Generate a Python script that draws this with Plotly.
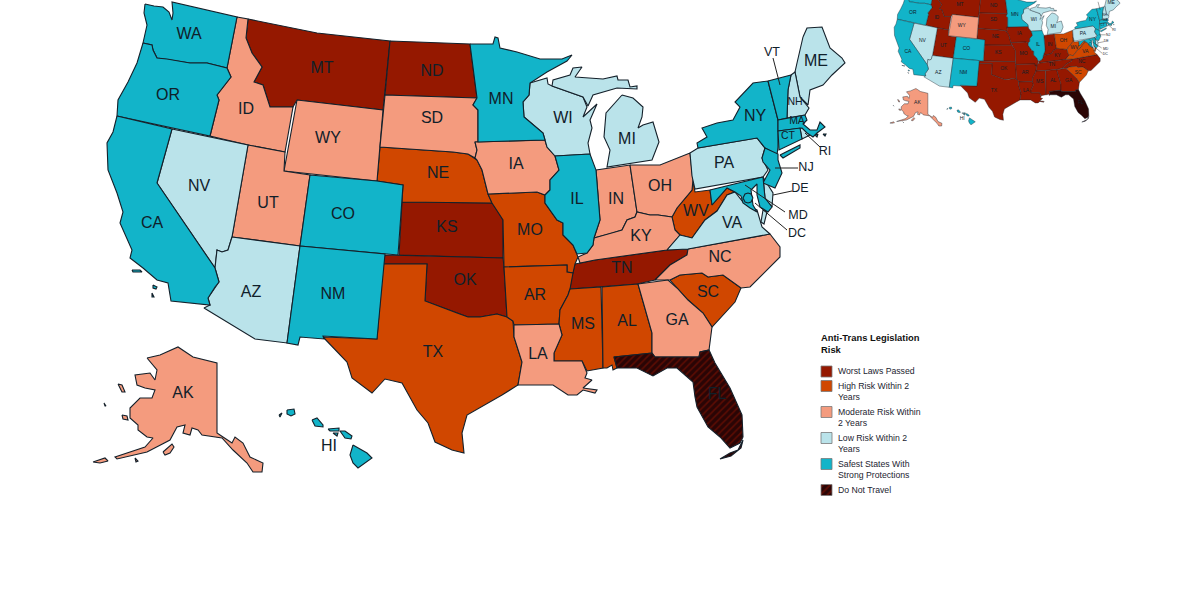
import plotly.graph_objects as go

# Plotly's geo basemap has to be fetched from a CDN and cannot load here, so the
# state outlines are hand-read from the picture and drawn on ordinary axes.
WA = [[(145,4),(154,6),(163,7),(169,12),(172,20),(173,13),(172,2),(237,17),(227,68),(207,63),(190,63),(167,59),(157,58),(153,50),(152,45),(143,43),(145,33),(147,25),(144,13)]]
OR = [[(143,43),(152,45),(153,50),(157,58),(167,59),(190,63),(207,63),(227,68),(231,77),(217,95),(219,100),(210,136),(117,116),(118,100),(128,82),(137,63)]]
CA = [[(117,116),(172,129),(157,183),(215,268),(219,282),(215,287),(208,298),(210,305),(171,301),(168,283),(157,280),(143,268),(130,258),(132,250),(120,223),(123,212),(117,193),(108,170),(107,143),(113,132)],
      [(132,270),(140,270),(142,272),(133,272)],[(153,285),(157,287),(156,289),(153,288)],[(152,293),(154,297),(152,297)]]
NV = [[(172,129),(248,145),(232,237),(228,250),(222,252),(217,250),(215,268),(157,183)]]
ID = [[(237,17),(248,19),(246,38),(252,53),(262,67),(254,82),(263,85),(270,107),(293,107),(285,152),(248,145),(210,136),(219,100),(217,95),(231,77),(227,68)]]
MT = [[(248,19),(317,33),(390,41),(383,110),(297,100),(293,107),(270,107),(263,85),(254,82),(262,67),(252,53),(246,38)]]
WY = [[(297,100),(383,110),(377,181),(284,171)]]
UT = [[(248,145),(285,152),(284,171),(310,175),(300,246),(232,237)]]
CO = [[(310,175),(377,181),(403,185),(398,255),(300,246)]]
NE = [[(380,147),(453,152),(468,154),(477,160),(482,170),(488,194),(492,203),(402,202),(403,185),(377,181)]]
SD = [[(385,95),(477,98),(473,105),(478,110),(478,142),(475,142),(477,150),(475,158),(468,154),(453,152),(380,147)]]
ND = [[(390,41),(470,44),(477,98),(385,95)]]
MN = [[(470,44),(493,44),(495,37),(498,38),(500,48),(517,52),(540,59),(562,59),(572,55),(567,61),(547,72),(530,83),(529,95),(523,102),(524,117),(543,133),(545,140),(478,142),(478,110),(473,105),(477,98)]]
WI = [[(530,83),(547,78),(548,84),(552,86),(583,97),(587,107),(583,117),(597,104),(590,120),(592,128),(588,143),(590,154),(555,156),(547,147),(545,140),(543,133),(524,117),(523,102),(529,95)]]
MI = [[(552,86),(553,80),(570,75),(573,68),(582,67),(575,77),(603,79),(617,76),(618,80),(628,80),(630,87),(637,86),(637,89),(617,88),(593,95),(588,106),(583,97)],
      [(622,95),(633,98),(643,107),(642,117),(638,128),(643,125),(653,122),(659,142),(652,160),(607,167),(610,150),(604,137),(606,113),(615,103)]]
IA = [[(475,142),(545,140),(547,147),(555,156),(559,170),(550,180),(550,190),(545,195),(537,192),(488,194),(482,170),(477,160),(475,158),(477,150)]]
IL = [[(555,156),(590,154),(596,170),(600,220),(594,238),(593,245),(587,253),(577,254),(573,245),(563,235),(563,223),(557,220),(545,203),(545,195),(550,190),(550,180),(559,170)]]
IN = [[(596,170),(630,165),(637,212),(635,217),(627,220),(622,230),(613,233),(594,238),(600,220)]]
OH = [[(630,165),(660,165),(690,153),(693,180),(692,190),(677,208),(672,217),(658,215),(650,215),(637,212)]]
KY = [[(594,238),(613,233),(622,230),(627,220),(635,217),(637,212),(650,215),(658,215),(672,217),(675,230),(680,235),(667,250),(595,260),(580,263),(578,257),(587,253),(593,245)]]
TN = [[(575,264),(595,260),(667,250),(688,249),(687,255),(670,265),(655,280),(637,284),(570,289),(572,275)]]
MO = [[(488,194),(537,192),(545,195),(545,203),(557,220),(563,223),(563,235),(573,245),(578,257),(575,264),(573,273),(567,272),(567,265),(504,267),(503,220),(497,210),(492,203)]]
KS = [[(402,202),(492,203),(497,210),(503,220),(503,258),(399,255)]]
OK = [[(385,255),(503,258),(504,267),(507,317),(497,314),(480,317),(468,317),(457,313),(442,307),(425,301),(427,264),(383,264)]]
TX = [[(383,264),(427,264),(425,301),(442,307),(457,313),(468,317),(480,317),(497,314),(507,317),(513,321),(514,337),(522,362),(518,385),(502,395),(467,415),(462,433),(464,453),(452,450),(435,442),(428,423),(417,410),(402,383),(385,379),(372,393),(352,378),(347,362),(323,337),(377,339)]]
NM = [[(300,246),(385,254),(377,339),(323,336),(324,339),(300,337),(298,345),(287,343)]]
AZ = [[(232,237),(300,246),(287,343),(255,339),(204,308),(210,305),(208,298),(215,287),(219,282),(215,268),(217,250),(222,252),(228,250)]]
AR = [[(504,267),(567,265),(567,272),(573,273),(570,289),(568,295),(560,310),(559,324),(514,325),(513,321),(507,317)]]
LA = [[(514,325),(559,324),(562,335),(554,353),(554,361),(582,361),(587,373),(585,378),(592,380),(583,388),(597,390),(595,393),(583,390),(577,395),(568,395),(560,390),(553,385),(547,385),(533,385),(518,385),(522,362),(514,337)]]
MS = [[(570,289),(601,287),(603,368),(587,371),(582,361),(554,361),(554,353),(562,335),(559,324),(560,310),(568,295)]]
AL = [[(602,287),(638,284),(652,333),(652,353),(614,357),(617,368),(613,370),(612,365),(607,368),(603,368)]]
GA = [[(638,284),(668,280),(677,288),(688,300),(703,313),(712,327),(709,350),(700,352),(699,357),(655,357),(652,353),(652,333)]]
FL = [[(614,357),(652,353),(655,357),(699,357),(700,352),(709,350),(715,363),(730,388),(742,415),(743,437),(740,443),(730,448),(720,437),(708,427),(697,407),(695,397),(693,382),(677,368),(667,368),(653,376),(637,368),(620,368),(617,368)],
      [(720,459),(730,453),(738,450),(743,440),(741,448),(731,456)]]
SC = [[(670,280),(680,275),(702,273),(708,277),(723,275),(741,288),(735,302),(712,327),(703,313),(688,300),(677,288)]]
NC = [[(655,280),(670,265),(687,255),(688,249),(770,234),(780,247),(780,257),(772,265),(750,287),(741,288),(723,275),(708,277),(702,273),(680,275),(670,280)]]
WV = [[(692,176),(695,192),(710,190),(712,205),(727,188),(735,192),(727,195),(717,211),(705,220),(692,238),(680,235),(675,230),(672,217),(677,208),(692,190)]]
VA = [[(667,250),(680,235),(692,238),(705,220),(717,211),(727,195),(735,192),(743,202),(750,207),(757,210),(762,227),(770,234),(688,249)],
      [(763,210),(767,212),(764,224),(761,222)]]
MD = [[(710,190),(763,177),(765,198),(772,207),(768,212),(760,207),(757,195),(757,184),(751,190),(753,205),(757,212),(750,208),(743,203),(741,196),(735,192),(727,188),(712,205)]]
DC = [[(753,198),(751,202),(748,203),(745,202),(743,198),(745,194),(748,193),(751,194)]]
DE = [[(763,177),(773,193),(772,207),(765,198)]]
NJ = [[(765,148),(778,154),(778,160),(782,173),(775,188),(763,183),(770,170),(763,162),(762,158)]]
PA = [[(690,153),(698,148),(757,138),(765,148),(762,158),(768,170),(763,177),(695,189),(692,176)]]
NY = [[(698,148),(697,143),(707,137),(702,128),(717,123),(733,120),(740,107),(735,102),(753,83),(768,81),(778,120),(778,147),(777,155),(765,148),(757,138)],
      [(780,155),(800,145),(800,148),(783,158)]]
VT = [[(768,81),(791,75),(788,90),(787,118),(778,120)]]
NH = [[(791,75),(795,72),(800,97),(809,108),(805,115),(787,118),(788,90)]]
ME = [[(803,37),(807,28),(822,27),(830,48),(842,58),(845,63),(832,75),(823,85),(810,90),(808,105),(800,97),(795,72),(797,63)]]
MA = [[(778,120),(805,115),(807,120),(803,124),(810,130),(817,130),(820,122),(825,127),(817,133),(813,137),(807,133),(802,128),(778,131)],[(815,135),(818,134),(817,137)],[(823,134),(826,134),(825,136)]]
CT = [[(778,131),(800,128),(802,139),(783,148),(779,150)]]
RI = [[(800,128),(805,127),(810,135),(805,138),(802,139)]]
HI = [[(287,410),(294,409),(295,414),(291,416),(287,414)],[(279,415),(282,413),(280,417)],[(312,420),(317,418),(323,425),(323,427),(315,426)],
      [(328,429),(339,428),(339,431),(330,431)],[(333,433),(338,433),(337,436)],[(340,431),(345,431),(352,436),(351,439),(345,438)],
      [(353,445),(367,453),(372,458),(358,468),(353,463),(350,455)]]
AK = [[(147,358),(160,355),(178,347),(193,357),(217,363),(217,433),(223,437),(232,443),(235,437),(243,443),(250,457),(263,463),(262,472),(253,472),(247,463),(233,450),(222,438),(202,435),(198,430),(192,428),(190,435),(183,433),(185,425),(177,427),(170,440),(147,452),(117,459),(115,457),(145,447),(153,438),(147,437),(138,430),(138,425),(130,418),(130,408),(140,398),(152,398),(155,390),(145,388),(137,385),(135,375),(150,373),(155,380),(157,370)],
      [(118,384),(122,385),(125,392),(122,392)],[(122,415),(127,416),(128,420),(123,419)],[(163,452),(172,444),(174,447),(170,453),(165,455)],
      [(93,462),(105,458),(108,461),(100,463)],[(104,403),(106,406),(105,406)],[(135,458),(138,461),(136,462)]]

SHAPES = dict(WA=WA,OR=OR,CA=CA,NV=NV,ID=ID,MT=MT,WY=WY,UT=UT,CO=CO,NE=NE,SD=SD,ND=ND,MN=MN,WI=WI,MI=MI,IA=IA,IL=IL,IN=IN,OH=OH,KY=KY,TN=TN,MO=MO,KS=KS,OK=OK,TX=TX,NM=NM,AZ=AZ,AR=AR,LA=LA,MS=MS,AL=AL,GA=GA,FL=FL,SC=SC,NC=NC,WV=WV,VA=VA,MD=MD,DE=DE,NJ=NJ,PA=PA,NY=NY,VT=VT,NH=NH,ME=ME,MA=MA,CT=CT,RI=RI,HI=HI,AK=AK,DC=DC)

WORST = ["MT","ND","KS","OK","TN"]
HIGH = ["NE","TX","MO","AR","MS","AL","SC","WV"]
MODERATE = ["ID","WY","SD","UT","IA","IN","OH","KY","NC","GA","LA","AK"]
LOW = ["NV","AZ","WI","MI","PA","VA","ME","NH","DE","RI"]
SAFE = ["WA","OR","CA","CO","NM","MN","IL","NY","VT","MA","CT","NJ","MD","DC","HI"]
DANGER = ["FL"]

INSET_WORST = ["MT","ND","SD","NE","KS","OK","TX","ID","UT","IA","MO","AR","LA","IN","KY","TN","MS","AL","GA","NC"]
INSET_HIGH = ["OH","WV","VA","SC"]
INSET_MODERATE = ["WY","AK"]
INSET_LOW = ["NV","AZ","WI","MI","PA","ME","NH","DE","RI"]
INSET_SAFE = ["WA","OR","CA","CO","NM","MN","IL","NY","VT","MA","CT","NJ","MD","DC","HI"]
INSET_DANGER = ["FL"]

COLORS = ["#951800","#d04700","#f49b7e","#bae3ea","#12b4c9","#2a0505"]
STRIPE = "#8f1402"
LINE = "#14202a"

LABELS = ["WA","OR","CA","NV","ID","MT","WY","UT","CO","AZ","NM","ND","SD","NE","KS","OK","TX","MN","IA","MO","AR","LA","WI","IL","MI","IN","OH","KY","TN","MS","AL","GA","FL","SC","NC","WV","VA","PA","NY","ME","AK","HI"]
LABEL_X = [189,168,152,199,246,322,328,268,343,251,333,432,432,438,447,465,433,501,516,530,535,538,563,577,627,616,660,641,622,583,627,677,717,708,720,696,732,724,755,816,183,329]
LABEL_Y = [35,96,224,187,110,69,139,204,215,293,295,72,119,174,228,281,353,100,165,231,296,355,119,200,140,200,187,237,269,325,322,321,395,293,258,212,224,164,117,62,394,447]
TINY = ["NH","MA","CT"]
TINY_X = [795,797,788]
TINY_Y = [102,121,136]
SMALL = ["VT","NJ","DE","MD","DC","RI"]
SMALL_X = [772,806,800,798,797,825]
SMALL_Y = [53,168,189,216,234,152]
LEADERS = [((773,58),(780,85)),((775,168),(798,168)),((773,195),(792,191)),((745,185),(785,212)),((755,203),(787,230)),((805,133),(820,147))]
INSET_HIDDEN = ["WA","VT"]

LEGEND_TITLE = "Anti-Trans Legislation<br>Risk"
LEGEND_TEXT = ["Worst Laws Passed","High Risk Within 2<br>Years","Moderate Risk Within<br>2 Years","Low Risk Within 2<br>Years","Safest States With<br>Strong Protections","Do Not Travel"]
LEGEND_Y = [371,391,417,443,469,489.5]
SWATCH_Y = [371.5,386,412,438,464,490]

def flat(polys):
    xs, ys = [], []
    for p in polys:
        for x, y in p + p[:1]:
            xs.append(x); ys.append(y)
        xs.append(None); ys.append(None)
    return xs, ys

fig = go.Figure()

def draw(groups, xa, ya, width, stripes):
    for gi, group in enumerate(groups):
        for st in group:
            xs, ys = flat(SHAPES[st])
            kw = {}
            if gi == 5 and stripes:
                kw["fillpattern"] = dict(shape="/", size=5, solidity=0.3, fgcolor=STRIPE, bgcolor=COLORS[5])
            fig.add_trace(go.Scatter(x=xs, y=ys, mode="lines", fill="toself", fillcolor=COLORS[gi],
                                     line=dict(color=LINE, width=width), xaxis=xa, yaxis=ya, hoverinfo="skip", **kw))

def order(groups):
    out = [[s for s in g if s != "DC"] for g in groups]
    out[4] = out[4] + ["DC"]
    return out

def labels(names, xs, ys, xa, ya, size, hide=()):
    keep = [i for i, n in enumerate(names) if n not in hide]
    fig.add_trace(go.Scatter(x=[xs[i] for i in keep], y=[ys[i] for i in keep], text=[names[i] for i in keep],
                             mode="text", xaxis=xa, yaxis=ya, hoverinfo="skip",
                             textfont=dict(family="Liberation Sans", size=size, color="#10202a")))

draw(order([WORST,HIGH,MODERATE,LOW,SAFE,DANGER]), "x", "y", 1.1, True)
draw(order([INSET_WORST,INSET_HIGH,INSET_MODERATE,INSET_LOW,INSET_SAFE,INSET_DANGER]), "x2", "y2", 0.4, False)

for xa, ya, w, size, small, tiny, hide in (("x","y",1,16,12.5,10.5,()),("x2","y2",0.4,5,3.5,3,INSET_HIDDEN)):
    for a, b in LEADERS:
        fig.add_trace(go.Scatter(x=[a[0],b[0]], y=[a[1],b[1]], mode="lines", line=dict(color="#222222", width=w),
                                 xaxis=xa, yaxis=ya, hoverinfo="skip"))
    labels(LABELS, LABEL_X, LABEL_Y, xa, ya, size, hide)
    labels(SMALL, SMALL_X, SMALL_Y, xa, ya, small, hide)
    labels(TINY, TINY_X, TINY_Y, xa, ya, tiny, hide)

# legend
for i, sy in enumerate(SWATCH_Y):
    kw = {}
    if i == 5:
        kw["fillpattern"] = dict(shape="/", size=5, solidity=0.35, fgcolor=STRIPE, bgcolor=COLORS[5])
    fig.add_trace(go.Scatter(x=[821,832,832,821,821], y=[sy-5.5,sy-5.5,sy+5.5,sy+5.5,sy-5.5], mode="lines", fill="toself",
                             fillcolor=COLORS[i], line=dict(color="#7a7a7a", width=0.8), hoverinfo="skip", **kw))
    fig.add_annotation(x=838, y=LEGEND_Y[i], text=LEGEND_TEXT[i], showarrow=False, xanchor="left", yanchor="middle", align="left",
                       font=dict(family="Liberation Sans", size=8.7, color="#1c2430"), xref="x", yref="y", borderpad=0, xshift=-1)
fig.add_annotation(x=821, y=343, text=LEGEND_TITLE, showarrow=False, xanchor="left", yanchor="middle", align="left",
                   font=dict(family="Liberation Sans", size=9.4, color="#111111", weight="bold"), xref="x", yref="y", borderpad=0, xshift=-1)

off = dict(visible=False, showgrid=False, zeroline=False)
fig.update_layout(
    width=1200, height=600, margin=dict(l=0, r=0, t=0, b=0), paper_bgcolor="white", plot_bgcolor="rgba(0,0,0,0)", showlegend=False,
    xaxis=dict(range=[0,1200], domain=[0,1], **off), yaxis=dict(range=[600,0], domain=[0,1], **off),
    xaxis2=dict(range=[60.6,877.5], domain=[880/1200,1130/1200], anchor="y2", **off),
    yaxis2=dict(range=[502,52], domain=[1-135/600,1], anchor="x2", **off),
)
fig.write_html("out.html", post_script="document.body.style.margin='0';", config={"displayModeBar": False})
